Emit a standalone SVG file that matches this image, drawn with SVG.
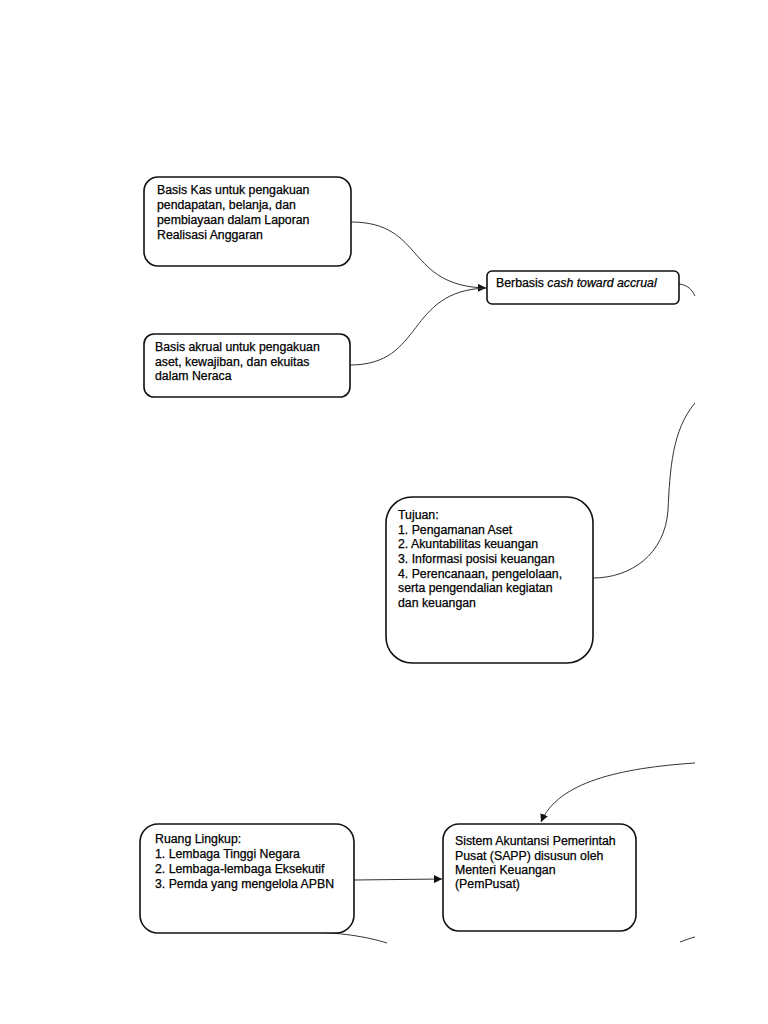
<svg xmlns="http://www.w3.org/2000/svg" width="768" height="1024" viewBox="0 0 768 1024">
<style>
.box{fill:#fff;stroke:#111;stroke-width:1.6}
.t{font-family:"Liberation Sans",Arial,sans-serif;font-size:12.3px;fill:#000;stroke:#000;stroke-width:0.25}
.c{fill:none;stroke:#333;stroke-width:1}
</style>
<defs>
<marker id="ah" viewBox="0 0 10 10" refX="10" refY="5" markerWidth="8" markerHeight="8" markerUnits="userSpaceOnUse" orient="auto">
<path d="M0,0 L10,5 L0,10 z" fill="#111"/>
</marker>
</defs>
<rect width="768" height="1024" fill="#fff"/>
<g id="connectors">
<path class="c" d="M351,222 C425,222 405,286 486,288" marker-end="url(#ah)"/>
<path class="c" d="M350,365 C425,365 405,291 486,288"/>
<path class="c" d="M679,284 C688,285 692,290 695,296"/>
<path class="c" d="M695,403 C672,430 670,470 668,510 C665,555 630,578 593,578"/>
<path class="c" d="M695,763 C620,768 558,782 541,822" marker-end="url(#ah)"/>
<path class="c" d="M354,880 L442,879" marker-end="url(#ah)"/>
<path class="c" d="M302,932 C340,932 368,937 387,943"/>
<path class="c" d="M680,942 C686,940 690,938 695,937"/>
</g>
<g id="node1">
<rect class="box" x="144" y="177" width="207" height="89" rx="14"/>
<text class="t" x="157" y="194">Basis Kas untuk pengakuan</text>
<text class="t" x="157" y="209">pendapatan, belanja, dan</text>
<text class="t" x="157" y="224">pembiayaan dalam Laporan</text>
<text class="t" x="157" y="239">Realisasi Anggaran</text>
</g>
<g id="node2">
<rect class="box" x="144" y="334" width="206" height="63" rx="10"/>
<text class="t" x="155" y="351">Basis akrual untuk pengakuan</text>
<text class="t" x="155" y="366">aset, kewajiban, dan ekuitas</text>
<text class="t" x="155" y="380">dalam Neraca</text>
</g>
<g id="node3">
<rect class="box" x="487" y="271" width="192" height="33" rx="5"/>
<text class="t" x="496" y="287">Berbasis <tspan font-style="italic">cash toward accrual</tspan></text>
</g>
<g id="node4">
<rect class="box" x="386" y="497" width="207" height="166" rx="26"/>
<text class="t" x="398" y="519">Tujuan:</text>
<text class="t" x="398" y="534">1. Pengamanan Aset</text>
<text class="t" x="398" y="548">2. Akuntabilitas keuangan</text>
<text class="t" x="398" y="563">3. Informasi posisi keuangan</text>
<text class="t" x="398" y="578">4. Perencanaan, pengelolaan,</text>
<text class="t" x="398" y="592">serta pengendalian kegiatan</text>
<text class="t" x="398" y="607">dan keuangan</text>
</g>
<g id="node5">
<rect class="box" x="140" y="824" width="214" height="109" rx="18"/>
<text class="t" x="155" y="843">Ruang Lingkup:</text>
<text class="t" x="155" y="858">1. Lembaga Tinggi Negara</text>
<text class="t" x="155" y="873">2. Lembaga-lembaga Eksekutif</text>
<text class="t" x="155" y="888">3. Pemda yang mengelola APBN</text>
</g>
<g id="node6">
<rect class="box" x="443" y="824" width="193" height="107" rx="16"/>
<text class="t" x="455" y="845">Sistem Akuntansi Pemerintah</text>
<text class="t" x="455" y="860">Pusat (SAPP) disusun oleh</text>
<text class="t" x="455" y="874">Menteri Keuangan</text>
<text class="t" x="455" y="888">(PemPusat)</text>
</g>
</svg>
